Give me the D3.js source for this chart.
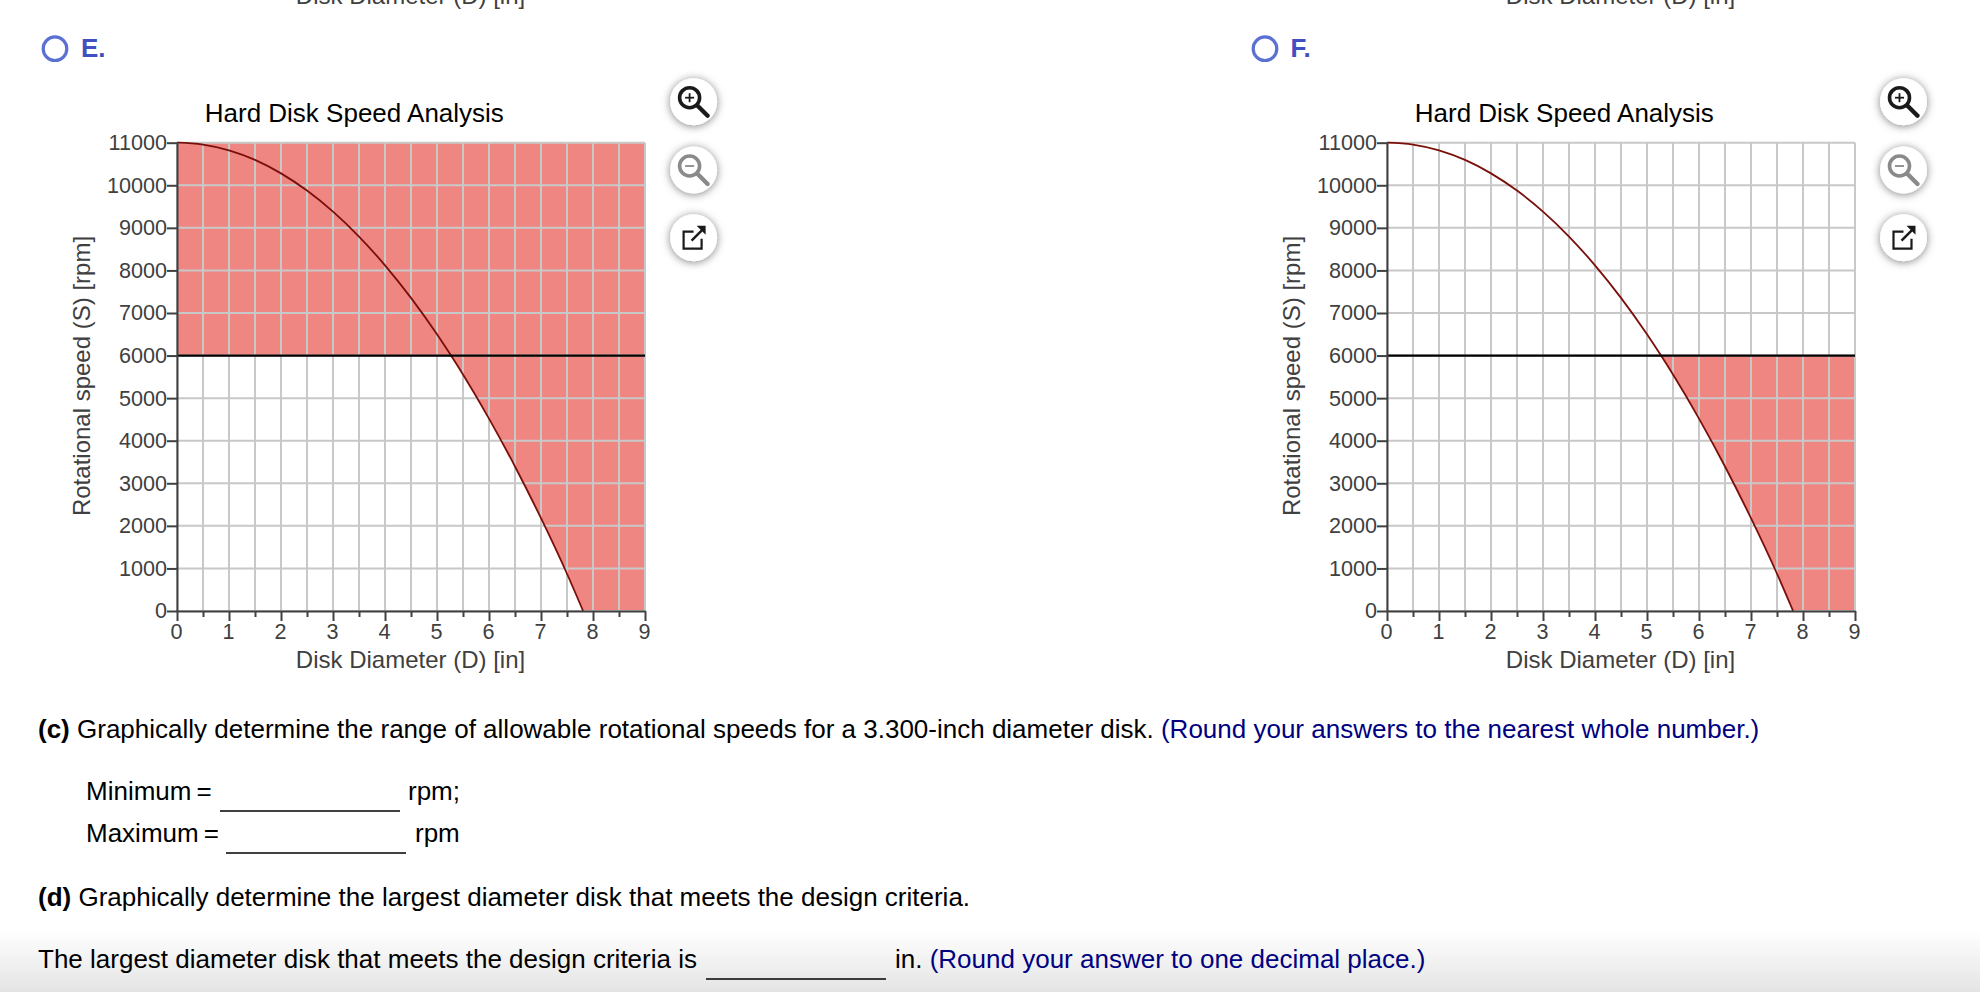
<!DOCTYPE html>
<html><head><meta charset="utf-8">
<script src="https://cdn.jsdelivr.net/npm/d3@7/dist/d3.min.js"></script>
<style>
html,body{margin:0;padding:0;background:#fff;overflow:hidden}
svg{display:block}
text{font-family:"Liberation Sans",Arial,sans-serif}
</style></head><body>
<script>
const chartTitle = "Hard Disk Speed Analysis";
const xLabel = "Disk Diameter (D) [in]";
const yLabel = "Rotational speed (S) [rpm]";
const xMajorTicks = [0,1,2,3,4,5,6,7,8,9];
const xMinorTicks = [0.5,1.5,2.5,3.5,4.5,5.5,6.5,7.5,8.5];
const yTicks = [0,1000,2000,3000,4000,5000,6000,7000,8000,9000,10000,11000];
const curveD = [0,0.5,1,1.5,2,2.5,3,3.5,4,4.5,5,5.27,5.5,6,6.5,7,7.5,7.81];
const curveS = [11000,10955,10820,10595,10280,9875,9380,8795,8120,7355,6500,6000,5555,4520,3395,2180,875,0];
const limitS = 6000;
const xMax = 9, yMax = 11000;

const W = 1980, H = 992;
const svg = d3.select("body").append("svg").attr("width",W).attr("height",H);
const defs = svg.append("defs");
const sh = defs.append("filter").attr("id","btnShadow").attr("x","-50%").attr("y","-50%").attr("width","200%").attr("height","200%");
sh.append("feDropShadow").attr("dx",0).attr("dy",1).attr("stdDeviation",4).attr("flood-color","#000").attr("flood-opacity",0.5);
const rb = defs.append("filter").attr("id","soft").attr("x","-20%").attr("y","-20%").attr("width","140%").attr("height","140%");
rb.append("feGaussianBlur").attr("stdDeviation",0.5);
const fade = defs.append("linearGradient").attr("id","fade").attr("x1",0).attr("x2",0).attr("y1",0).attr("y2",1);
fade.append("stop").attr("offset","0%").attr("stop-color","#e4e4e4").attr("stop-opacity",0);
fade.append("stop").attr("offset","100%").attr("stop-color","#e4e4e4").attr("stop-opacity",1);

svg.append("rect").attr("x",0).attr("y",930).attr("width",W).attr("height",62).attr("fill","url(#fade)");

const pts = curveD.map((d,i)=>({d,s:curveS[i]}));
const below = pts.filter(p=>p.s<=limitS);
const regionE = [{d:0,lo:limitS}].concat(below.map(p=>({d:p.d,lo:p.s})),[{d:xMax,lo:0}]);
const regionF = below.map(p=>({d:p.d,lo:p.s})).concat([{d:xMax,lo:0}]);

function chart(x0,x1,region,top,letter,radioX,letterX,btnX){
  const y0 = 611, y1 = 142.7;
  const x = d3.scaleLinear().domain([0,xMax]).range([x0,x1]);
  const y = d3.scaleLinear().domain([0,yMax]).range([y0,y1]);
  const g = svg.append("g");

  // leftover x label of the row above
  g.append("text").attr("x",x(4.49)).attr("y",4).attr("text-anchor","middle").attr("font-size",24).attr("fill","#404040").text(xLabel);

  g.append("circle").attr("cx",radioX).attr("cy",48.7).attr("r",11.8).attr("fill","#fff").attr("stroke","#5a6fd3").attr("stroke-width",3.2).attr("filter","url(#soft)");
  g.append("text").attr("x",letterX).attr("y",57).attr("font-size",26).attr("font-weight","bold").attr("fill","#3f51c0").text(letter+".");

  // shaded region
  const area = d3.area().x(p=>x(p.d)).y0(p=>y(p.lo)).y1(y(top));
  g.append("path").datum(region).attr("d",area).attr("fill","#f08682");

  // grid
  const grid = g.append("g").attr("stroke","#c8c8c8").attr("stroke-width",2);
  grid.selectAll(".gx").data(xMajorTicks.concat(xMinorTicks)).join("line")
    .attr("x1",d=>x(d)).attr("x2",d=>x(d)).attr("y1",y(yMax)).attr("y2",y(0));
  grid.selectAll(".gy").data(yTicks).join("line")
    .attr("x1",x(0)).attr("x2",x(xMax)).attr("y1",d=>y(d)).attr("y2",d=>y(d));

  // curve + limit
  const line = d3.line().x(p=>x(p.d)).y(p=>y(p.s)).curve(d3.curveMonotoneX);
  g.append("path").datum(pts).attr("d",line).attr("fill","none").attr("stroke","#7a0f0a").attr("stroke-width",1.8);
  g.append("line").attr("x1",x(0)).attr("x2",x(xMax)).attr("y1",y(limitS)).attr("y2",y(limitS)).attr("stroke","#000").attr("stroke-width",2.2);

  // axes
  const styleAxis = a => {
    a.select(".domain").attr("stroke","#404040").attr("stroke-width",2);
    a.selectAll(".tick line").attr("stroke","#404040").attr("stroke-width",2);
    a.selectAll("text").attr("fill","#404040").attr("font-size",21.6).attr("font-family",'"Liberation Sans",Arial,sans-serif');
  };
  const axB = g.append("g").attr("transform",`translate(0,${y0})`)
    .call(d3.axisBottom(x).tickValues(xMajorTicks).tickFormat(d3.format("d")).tickSize(10).tickSizeOuter(0).tickPadding(3));
  styleAxis(axB);
  axB.selectAll(".tick text").attr("dx",-1);
  const axMin = g.append("g").attr("transform",`translate(0,${y0})`)
    .call(d3.axisBottom(x).tickValues(xMinorTicks).tickFormat("").tickSize(6).tickSizeOuter(0));
  styleAxis(axMin);
  axMin.select(".domain").remove();
  const axL = g.append("g").attr("transform",`translate(${x0},0)`)
    .call(d3.axisLeft(y).tickValues(yTicks).tickFormat(d3.format("d")).tickSize(10).tickSizeOuter(0).tickPadding(0));
  styleAxis(axL);

  g.append("text").attr("x",x(4.49)).attr("y",668).attr("text-anchor","middle").attr("font-size",24).attr("fill","#404040").text(xLabel);
  g.append("text").attr("transform",`translate(${x0-87},376) rotate(-90)`).attr("text-anchor","middle").attr("font-size",24).attr("fill","#404040").text(yLabel);
  g.append("text").attr("x",x(3.41)).attr("y",122).attr("text-anchor","middle").attr("font-size",26).attr("fill","#000").text(chartTitle);

  // icon buttons
  [101.7,170,237.7].forEach((cy,i)=>{
    const b = g.append("g").attr("transform",`translate(${btnX},${cy})`);
    b.append("circle").attr("r",23.5).attr("fill","#fff").attr("filter","url(#btnShadow)");
    const col = i==1 ? "#8a8a8a" : "#1a1a1a";
    if(i<2){
      b.append("circle").attr("cx",-4).attr("cy",-4).attr("r",10).attr("fill","none").attr("stroke",col).attr("stroke-width",3.6);
      b.append("line").attr("x1",4).attr("y1",4).attr("x2",14).attr("y2",14).attr("stroke",col).attr("stroke-width",4.4).attr("stroke-linecap","round");
      b.append("line").attr("x1",-8.5).attr("x2",0.5).attr("y1",-4).attr("y2",-4).attr("stroke",col).attr("stroke-width",1.8);
      if(i==0) b.append("line").attr("x1",-4).attr("x2",-4).attr("y1",-8.5).attr("y2",0.5).attr("stroke",col).attr("stroke-width",1.8);
    } else {
      b.append("path").attr("d","M0,-6H-10V11H8V1").attr("fill","none").attr("stroke",col).attr("stroke-width",2.2);
      b.append("line").attr("x1",-2).attr("y1",3).attr("x2",9).attr("y2",-8).attr("stroke",col).attr("stroke-width",2.4);
      b.append("path").attr("d","M3,-12H12V-3Z").attr("fill",col);
    }
  });
}
chart(177,645,regionE,yMax,"E",55,81,693.6);
chart(1387,1855,regionF,limitS,"F",1265,1290.5,1903.5);

// question text
const FS = 26, navy = "#000080";
function t(x,y,parts){
  const tx = svg.append("text").attr("x",x).attr("y",y).attr("font-size",FS).attr("fill","#000");
  parts.forEach(p=>{
    const s = tx.append("tspan").text(p.s);
    if(p.b) s.attr("font-weight","bold");
    if(p.c) s.attr("fill",p.c);
    if(p.dx) s.attr("dx",p.dx);
  });
  return tx;
}
function blank(x1,x2,y){svg.append("line").attr("x1",x1).attr("x2",x2).attr("y1",y).attr("y2",y).attr("stroke","#000").attr("stroke-width",1.6);}

t(38,738,[{s:"(c)",b:1},{s:" Graphically determine the range of allowable rotational speeds for a 3.300-inch diameter disk. "},{s:"(Round your answers to the nearest whole number.)",c:navy}]);
t(86,800,[{s:"Minimum"},{s:"=",dx:5}]);
blank(220,400,811);
t(408,800,[{s:"rpm;"}]);
t(86,842,[{s:"Maximum"},{s:"=",dx:5}]);
blank(226,406,853);
t(415,842,[{s:"rpm"}]);
t(38,906,[{s:"(d)",b:1},{s:" Graphically determine the largest diameter disk that meets the design criteria."}]);
t(38,968,[{s:"The largest diameter disk that meets the design criteria is"}]);
blank(706,886,979);
t(895,968,[{s:"in. "},{s:"(Round your answer to one decimal place.)",c:navy}]);
</script>
</body></html>
